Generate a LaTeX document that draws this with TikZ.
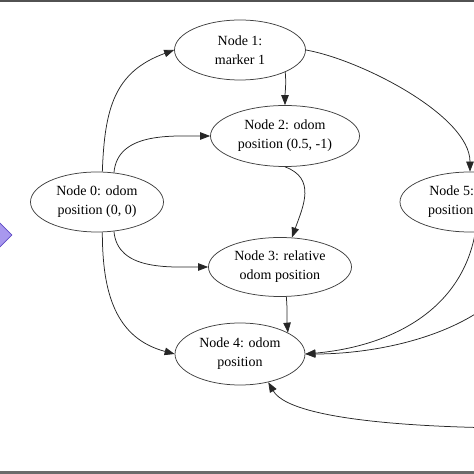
\documentclass[tikz,border=0pt]{standalone}
\usepackage{fontspec}
\setmainfont{Liberation Serif}
\usetikzlibrary{positioning, arrows.meta, shapes.geometric}
\definecolor{lilac}{HTML}{A898EE}
\definecolor{lilacdark}{HTML}{5E4AC4}
\tikzset{
    frame/.style = {fill=black!68},
}

\begin{document}
\begin{tikzpicture}[
        x=1pt, y=1pt,
        state/.style={
            ellipse,
            draw=black!75,
            line width=0.75pt,
            text=black,
            inner sep=1pt,
            align=center,
            font=\fontsize{14}{19}\selectfont
        },
        arrow/.style={
            -{Triangle[length=10pt, width=7.5pt]},
            line width=0.75pt,
            black!85
        }
    ]
        \useasboundingbox (0,0) rectangle (474,474);
        \clip (0,0) rectangle (474,474);
        \fill [frame] (0,472) rectangle (474,474);
        \fill [frame, fill=black!58] (0,0) rectangle (474,2.5);

        % cut-off node on the left
        \node [diamond, draw=lilacdark, fill=lilac, line width=0.8pt, minimum width=24pt, minimum height=24pt, inner sep=0pt] (prev) at (0,239) {};

        \node [state, minimum width=133, minimum height=60] (n0) at (97,272) {Node 0: odom\\position (0, 0)};
        \node [state, minimum width=131, minimum height=60] (n1) at (240,424) {Node 1:\\marker 1};
        \node [state, minimum width=149, minimum height=61] (n2) at (285,338) {Node 2: odom\\position (0.5, -1)};
        \node [state, minimum width=143, minimum height=59] (n3) at (280,207) {Node 3: relative\\odom position};
        \node [state, minimum width=130, minimum height=62] (n4) at (240,120) {Node 4: odom\\position};
        \node [state, minimum width=140, minimum height=60] (n5) at (470,272) {Node 5: odom\\position (1, -1)};
        \coordinate (n6) at (510,190);
        \coordinate (n7) at (520,46);

        \draw [arrow] (n0.80) to[out=88, in=200, looseness=1.15] (n1.west);
        \draw [arrow] (n0.60) to[out=85, in=180] (n2.west);
        \draw [arrow] (n0.-60) to[out=-85, in=180] (n3.west);
        \draw [arrow] (n0.-80) to[out=-90, in=165, looseness=1.1] (n4.west);
        \draw [arrow] (n1.-26) to[out=-85, in=90] (n2.north);
        \draw [arrow] (n1.east) to[out=-10, in=90, looseness=0.7] (n5.north);
        \draw [arrow] (n2.south) to[out=-20, in=70, looseness=1.2] (n3.68);
        \draw [arrow] (n3.-78) to[out=-85, in=95] (n4.24);
        \draw [arrow] (n5.-80) to[out=-100, in=5] (n4.east);
        \draw [arrow] (n6) .. controls +(-40,-50) and +(75,0) .. (n4.east);
        \draw [arrow] (n7) to[out=180, in=-60, looseness=0.5] (n4.-45);
\end{tikzpicture}
\end{document}
